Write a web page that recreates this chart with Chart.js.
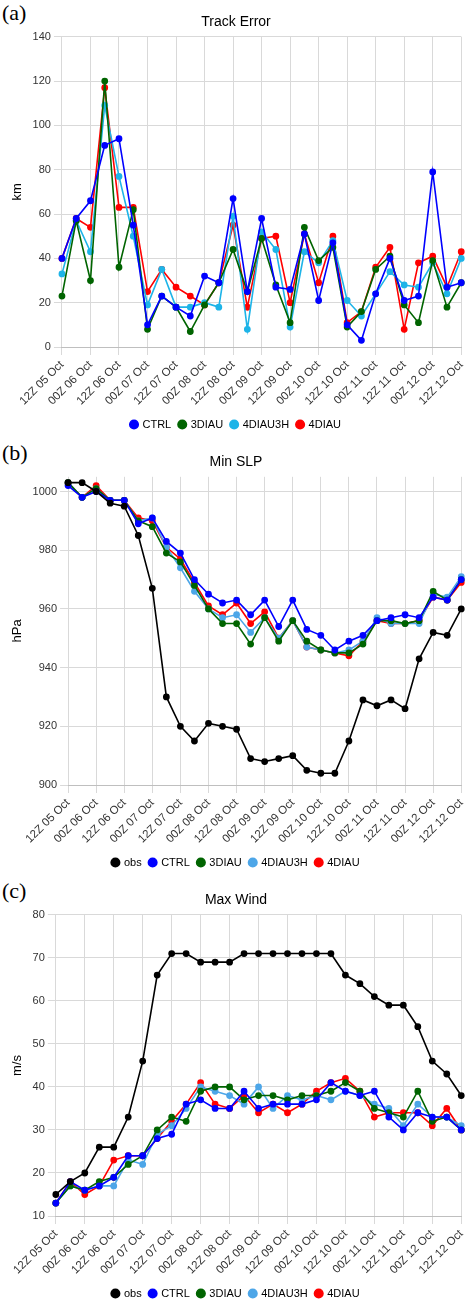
<!DOCTYPE html>
<html><head><meta charset="utf-8">
<script src="https://cdn.jsdelivr.net/npm/chart.js@4"></script>
<style>
body{margin:0;background:#fff;width:474px;height:1309px;position:relative;font-family:"Liberation Sans",Arial,sans-serif}
.p{position:absolute;left:0;width:474px}
.lab{position:absolute;left:2px;font-family:"Liberation Serif","Times New Roman",serif;font-size:22px}
</style></head><body>
<div class="lab" style="top:0">(a)</div>
<div class="lab" style="top:440px">(b)</div>
<div class="lab" style="top:878px">(c)</div>
<div class="p" style="top:0;height:440px"><canvas id="c1"></canvas></div>
<div class="p" style="top:440px;height:438px"><canvas id="c2"></canvas></div>
<div class="p" style="top:878px;height:431px"><canvas id="c3"></canvas></div>
<script>
const tickLabels = ["12Z 05 Oct","00Z 06 Oct","12Z 06 Oct","00Z 07 Oct","12Z 07 Oct","00Z 08 Oct","12Z 08 Oct","00Z 09 Oct","12Z 09 Oct","00Z 10 Oct","12Z 10 Oct","00Z 11 Oct","12Z 11 Oct","00Z 12 Oct","12Z 12 Oct"];
// 6-hourly points, every second one labelled
const times = [];
for (let i = 0; i < 29; i++) times.push(i % 2 === 0 ? tickLabels[i / 2] : "");

const trackCtrl = [40,58,66,91,94,55,10,23,18,14,32,29,67,25,58,27,26,51,21,47,10,3,24,40,21,23,79,27,29];
const track3d = [23,57,30,120,36,62,8,23,18,7,19,29,44,25,49,28,11,54,39,45,9,16,35,41,19,11,39,18,29];
const track4d3h = [33,57,43,109,77,50,19,35,18,18,20,18,59,8,52,44,9,43,38,48,21,14,24,34,28,27,38,24,40];
const track4d = [40,58,54,117,63,63,25,35,27,23,19,29,55,18,49,50,20,51,29,50,11,16,36,45,8,38,41,27,43];

const slpObs = [1003,1003,1000,996,995,985,967,930,920,915,921,920,919,909,908,909,910,905,904,904,915,929,927,929,926,943,952,951,960];
const slpCtrl = [1002,998,1000,997,997,989,991,983,979,970,965,962,963,958,963,954,963,953,951,946,949,951,956,957,958,957,964,963,970];
const slp3d = [1003,998,1001,997,997,990,988,979,976,968,960,955,955,948,957,949,956,949,946,945,945,948,956,956,955,956,966,963,970];
const slp4d3h = [1003,998,1001,997,997,990,991,981,974,966,960,957,958,952,957,950,956,947,946,945,946,949,957,955,955,955,965,964,971];
const slp4d = [1003,998,1002,997,997,991,990,981,977,969,961,958,962,955,959,950,956,947,946,945,944,949,956,955,955,956,964,963,969];

const windObs = [15,18,20,26,26,33,46,66,71,71,69,69,69,71,71,71,71,71,71,71,66,64,61,59,59,54,46,43,38];
const windCtrl = [13,18,16,17,19,24,24,28,29,36,37,35,35,39,35,36,36,36,37,41,39,38,39,33,30,34,33,33,30];
const wind3d = [13,17,16,18,19,22,24,30,33,32,39,40,40,37,38,38,37,38,38,39,41,39,35,34,33,39,32,33,30];
const wind4d3h = [13,17,16,17,17,23,22,29,31,35,40,39,38,36,40,35,38,37,38,37,39,38,36,35,31,36,33,33,31];
const wind4d = [13,18,15,17,23,24,24,28,32,36,41,36,35,38,34,36,34,36,39,41,42,39,33,34,34,34,31,35,30];

function ds(label, data, color) {
  return { label: label, data: data, borderColor: color, backgroundColor: color,
    borderWidth: 1.6, pointRadius: 2.6, pointHoverRadius: 3, tension: 0 };
}

function makeChart(id, title, yTitle, min, max, step, sets) {
  new Chart(document.getElementById(id).getContext("2d"), {
    type: "line",
    data: { labels: times, datasets: sets },
    options: {
      responsive: true, maintainAspectRatio: false, animation: false,
      layout: { padding: { left: 6, right: 8, top: 0 } },
      scales: {
        x: {
          grid: { offset: false, color: (c) => (c.index % 2 === 0 ? "#d9d9d9" : "rgba(0,0,0,0)") },
          border: { color: "#bfbfbf" },
          ticks: {
            autoSkip: false, maxRotation: 45, minRotation: 45, color: "#333",
            font: { size: 11.5 },
            callback: function (v, i) { return times[i]; }
          }
        },
        y: {
          min: min, max: max,
          grid: { color: (c) => ((c.tick.value - min) % step === 0 ? "#d9d9d9" : "rgba(0,0,0,0)") },
          border: { display: false },
          afterBuildTicks: (ax) => { ax.ticks = ax.ticks.filter((t) => (t.value - min) % step === 0); },
          ticks: { stepSize: step, color: "#333", font: { size: 11 }, callback: (v) => String(v) },
          title: { display: true, text: yTitle, color: "#000", font: { size: 13 } }
        }
      },
      plugins: {
        title: { display: true, text: title, color: "#000", font: { size: 14, weight: "normal" }, padding: { top: 14, bottom: 6 } },
        legend: { position: "bottom", labels: { usePointStyle: true, pointStyle: "circle", boxWidth: 6, boxHeight: 6, color: "#000", font: { size: 11 }, padding: 8 } }
      }
    }
  });
}

makeChart("c1", "Track Error", "km", 0, 140, 20, [
  ds("CTRL", trackCtrl, "#0000ff"), ds("3DIAU", track3d, "#006400"),
  ds("4DIAU3H", track4d3h, "#1eb4e8"), ds("4DIAU", track4d, "#ff0000")]);
makeChart("c2", "Min SLP", "hPa", 900, 1005, 20, [
  ds("obs", slpObs, "#000000"), ds("CTRL", slpCtrl, "#0000ff"), ds("3DIAU", slp3d, "#006400"),
  ds("4DIAU3H", slp4d3h, "#4da6e8"), ds("4DIAU", slp4d, "#ff0000")]);
makeChart("c3", "Max Wind", "m/s", 10, 80, 10, [
  ds("obs", windObs, "#000000"), ds("CTRL", windCtrl, "#0000ff"), ds("3DIAU", wind3d, "#006400"),
  ds("4DIAU3H", wind4d3h, "#4da6e8"), ds("4DIAU", wind4d, "#ff0000")]);
</script>
</body></html>
